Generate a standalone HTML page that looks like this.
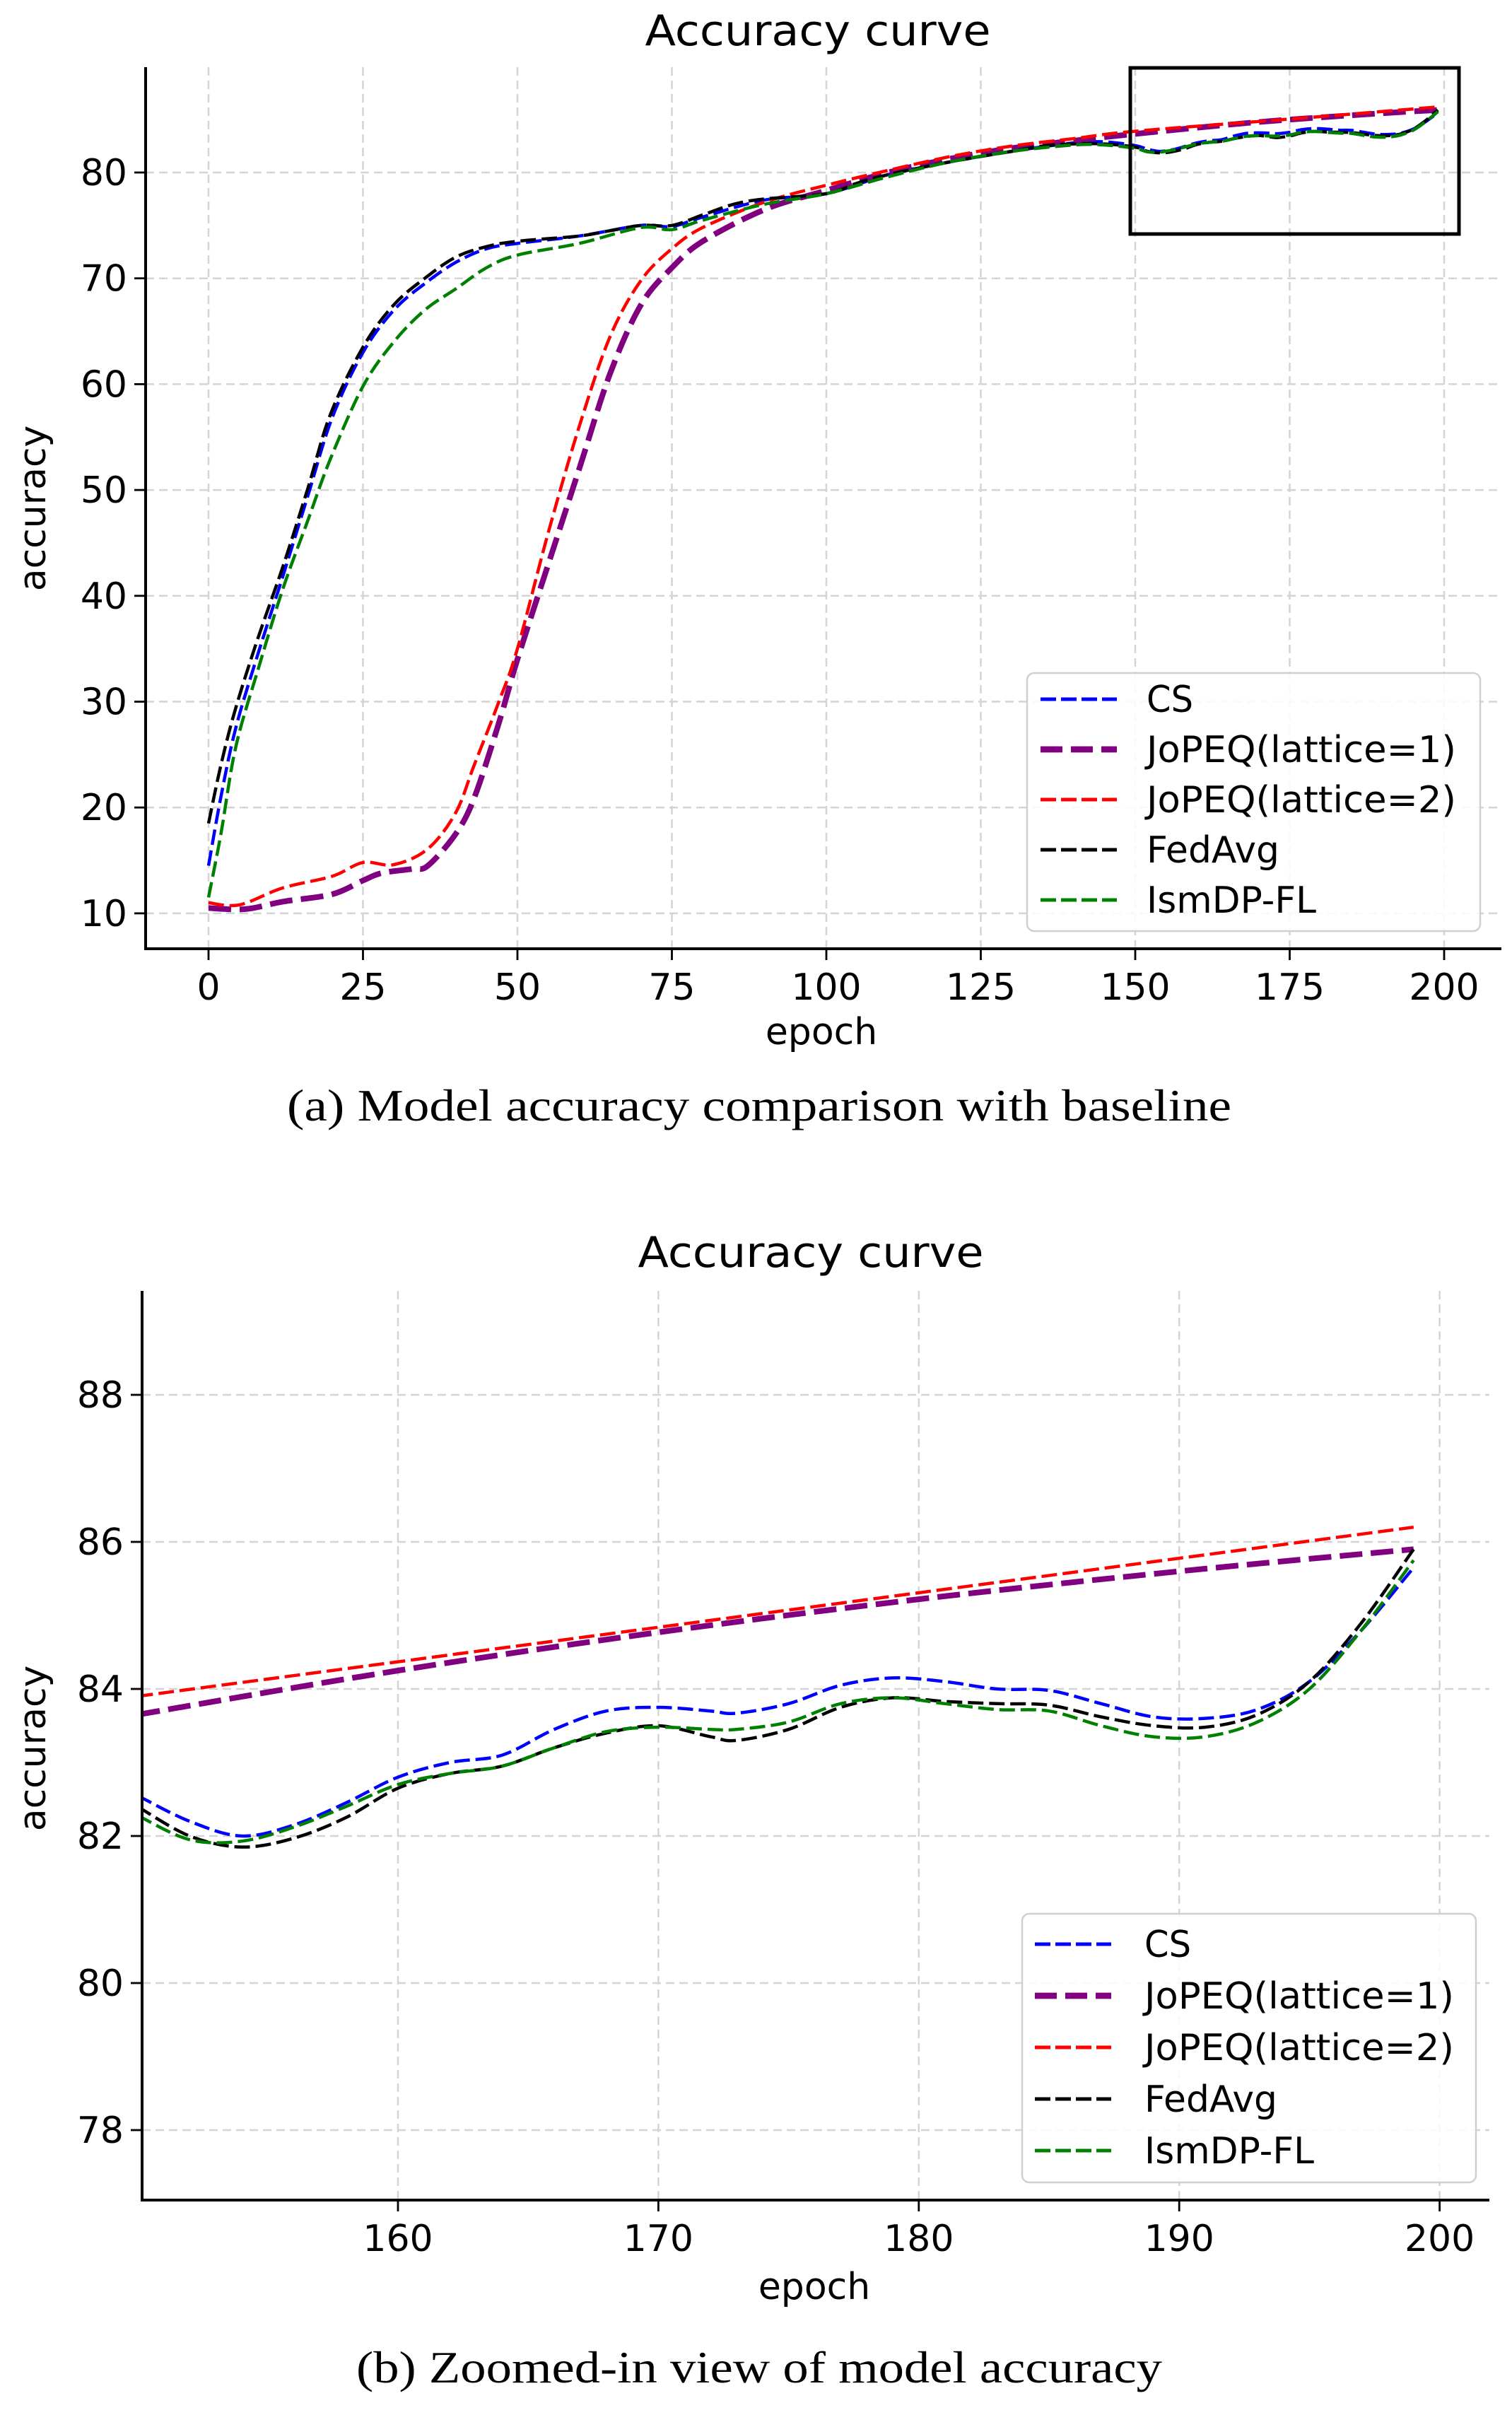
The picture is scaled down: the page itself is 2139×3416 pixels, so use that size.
<!DOCTYPE html>
<html><head><meta charset="utf-8"><style>
html,body{margin:0;padding:0;background:#fff;}
svg{display:block;}
text{font-family:"DejaVu Sans","Liberation Sans",sans-serif;fill:#000;}
.cap{font-family:"Liberation Serif",serif;}
</style></head><body>
<svg id="s" width="2139" height="3416" viewBox="0 0 2139 3416" xmlns="http://www.w3.org/2000/svg">
<rect width="2139" height="3416" fill="#fff"/>
<g id="ga"></g>
<g id="gb"></g>
<text x="1157" y="64" font-size="60" text-anchor="middle" textLength="489" lengthAdjust="spacingAndGlyphs">Accuracy curve</text>
<text x="1147" y="1792" font-size="60" text-anchor="middle" textLength="489" lengthAdjust="spacingAndGlyphs">Accuracy curve</text>
<text x="1162" y="1477" font-size="52" text-anchor="middle">epoch</text>
<text x="1152" y="3252" font-size="52" text-anchor="middle">epoch</text>
<text transform="translate(64,719) rotate(-90)" font-size="52" text-anchor="middle">accuracy</text>
<text transform="translate(64,2473) rotate(-90)" font-size="52" text-anchor="middle">accuracy</text>
<text class="cap" x="406" y="1585" font-size="64" textLength="1336" lengthAdjust="spacingAndGlyphs">(a)  Model accuracy comparison with baseline</text>
<text class="cap" x="504" y="3370" font-size="64" textLength="1140" lengthAdjust="spacingAndGlyphs">(b)  Zoomed-in view of model accuracy</text>
</svg>
<script>
var NS="http://www.w3.org/2000/svg";
function el(p,t,a,txt){var e=document.createElementNS(NS,t);for(var k in a)e.setAttribute(k,a[k]);if(txt!==undefined)e.textContent=txt;p.appendChild(e);return e;}
function path(pts,X,Y){var P=pts.map(function(p){return [X(p[0]),Y(p[1])];});var d="M"+P[0][0].toFixed(1)+","+P[0][1].toFixed(1);
for(var i=0;i<P.length-1;i++){var p0=P[i-1]||P[i],p1=P[i],p2=P[i+1],p3=P[i+2]||P[i+1];
var c1=[p1[0]+(p2[0]-p0[0])/6,p1[1]+(p2[1]-p0[1])/6],c2=[p2[0]-(p3[0]-p1[0])/6,p2[1]-(p3[1]-p1[1])/6];
d+=" C"+c1[0].toFixed(1)+","+c1[1].toFixed(1)+" "+c2[0].toFixed(1)+","+c2[1].toFixed(1)+" "+p2[0].toFixed(1)+","+p2[1].toFixed(1);}return d;}
var zCS=[[150,82.55],[152,82.2],[154,82.0],[156,82.15],[158,82.45],[160,82.8],[162,83.0],[164,83.1],[166,83.45],[168,83.7],[170,83.75],[172,83.7],[173,83.67],[175,83.8],[177,84.05],[179,84.15],[181,84.1],[183,84.0],[185,83.98],[187,83.8],[189,83.62],[191,83.6],[193,83.72],[195,84.1],[197,84.8],[199,85.65]];
var zFA=[[150,82.4],[152,82.0],[154,81.85],[156,81.97],[158,82.25],[160,82.65],[162,82.85],[164,82.95],[166,83.2],[168,83.4],[170,83.5],[172,83.35],[173,83.3],[175,83.45],[177,83.75],[179,83.88],[181,83.83],[183,83.8],[185,83.78],[187,83.62],[189,83.5],[191,83.48],[193,83.65],[195,84.1],[197,84.9],[199,85.9]];
var zGR=[[150,82.28],[152,81.95],[154,81.93],[156,82.12],[158,82.4],[160,82.7],[162,82.85],[164,82.95],[166,83.2],[168,83.42],[170,83.48],[172,83.45],[173,83.45],[175,83.55],[177,83.8],[179,83.88],[181,83.8],[183,83.72],[185,83.7],[187,83.5],[189,83.35],[191,83.35],[193,83.55],[195,84.0],[197,84.8],[199,85.75]];
var zRD=[[150,83.9],[199,86.2]];
var zPU=[[150,83.65],[160,84.25],[170,84.77],[180,85.22],[190,85.6],[199,85.9]];
var aFA=[[0,18.5],[2,24],[4.4,29.4],[8,36],[12,42.7],[16,50],[19.7,57.1],[25,63.5],[30,67.5],[35,70],[40,72],[45,73],[50,73.5],[60,74],[65,74.5],[70,75],[75,75],[80,76],[85,77],[90,77.5],[100,78],[105,79],[110,79.8],[120,81],[130,82],[135,82.5],[140,82.7],[145,82.7]].concat(zFA);
var aCS=[[0,14.5],[2,21],[4.4,27.5],[8,34.5],[12,41.8],[16,49.3],[20,56.8],[25,63],[30,67],[35,69.5],[40,71.5],[45,72.8],[50,73.3],[60,74],[70,75],[75,74.9],[80,75.8],[90,77.4],[100,78],[110,79.8],[120,81],[130,82],[140,82.8],[145,82.9]].concat(zCS);
var aGR=[[0,11.5],[2,17.5],[4.4,25.7],[8,33],[12,40.6],[16,47],[19.7,52.9],[25,59.8],[30,64],[35,67],[40,69],[45,71],[50,72.2],[60,73.3],[70,74.8],[75,74.6],[80,75.5],[90,77],[100,78],[110,79.6],[120,81],[130,82],[140,82.6],[145,82.6]].concat(zGR);
var aRD=[[0,11],[5,10.8],[12,12.4],[20,13.5],[25,14.8],[30,14.6],[35.5,16.1],[40,19.5],[43,24],[47,30],[50,35],[55,46],[60,56],[65,64.5],[70,69.8],[75,72.8],[80,74.8],[90,77.2],[100,78.8],[110,80.2],[120,81.5],[130,82.5],[140,83.2],[150,83.9],[175,85.05],[199,86.2]];
var aPU=[[0,10.5],[6,10.4],[12,11.1],[20,11.8],[25,13.1],[28,13.8],[33,14.2],[35.5,14.5],[40,17.5],[43,20.9],[47,28],[50,34],[55,43],[60,52],[65,61],[70,67.5],[75,71],[80,73.5],[90,76.5],[100,78.3],[110,80],[120,81.3],[130,82.3],[140,83],[150,83.65],[170,84.77],[190,85.6],[199,85.9]];
var styles={cs:["#0000ff",4.5,"22 8"],pu:["#800080",8,"32 12"],rd:["#ff0000",4.5,"22 8"],fa:["#000000",4.5,"22 8"],gr:["#008000",4.5,"22 8"]};
function plot(g,o){
 var X=function(e){return o.x0+(e-o.e0)*o.px;},Y=function(v){return o.y0+(o.v0-v)*o.py;};
 o.xt.forEach(function(t){var x=X(t);el(g,"line",{x1:x,x2:x,y1:o.top,y2:o.bot,stroke:"#d4d4d4","stroke-width":2.5,"stroke-dasharray":"12 7"});
  el(g,"line",{x1:x,x2:x,y1:o.bot,y2:o.bot+16,stroke:"#000","stroke-width":2.8});
  el(g,"text",{x:x,y:o.bot+72,"font-size":52,"text-anchor":"middle"},String(t));});
 o.yt.forEach(function(t){var y=Y(t);el(g,"line",{x1:o.left,x2:o.right,y1:y,y2:y,stroke:"#d4d4d4","stroke-width":2.5,"stroke-dasharray":"12 7"});
  el(g,"line",{x1:o.left-16,x2:o.left,y1:y,y2:y,stroke:"#000","stroke-width":2.8});
  el(g,"text",{x:o.left-26,y:y+18,"font-size":52,"text-anchor":"end"},String(t));});
 var cp=el(g,"clipPath",{id:"c"+o.id});el(cp,"rect",{x:o.left,y:o.top,width:o.right-o.left,height:o.bot-o.top});
 var sg=el(g,"g",{"clip-path":"url(#c"+o.id+")"});
 o.series.forEach(function(s){var st=styles[s[0]];el(sg,"path",{d:path(s[1],X,Y),fill:"none",stroke:st[0],"stroke-width":st[1],"stroke-dasharray":st[2]});});
 el(g,"line",{x1:o.left,x2:o.left,y1:o.top,y2:o.bot+2,stroke:"#000","stroke-width":4});
 el(g,"line",{x1:o.left-2,x2:o.right,y1:o.bot,y2:o.bot,stroke:"#000","stroke-width":4});
 var L=o.leg;el(g,"rect",{x:L.x,y:L.y,width:L.w,height:L.h,rx:10,fill:"#fff","fill-opacity":0.85,stroke:"#d0d0d0","stroke-width":2.5});
 var names=[["cs","CS",66],["pu","JoPEQ(lattice=1)",438],["rd","JoPEQ(lattice=2)",438],["fa","FedAvg",188],["gr","IsmDP-FL",240]];
 names.forEach(function(n,i){var y=L.r0+i*L.dy,st=styles[n[0]];
  el(g,"line",{x1:L.lx,x2:L.lx+108,y1:y,y2:y,stroke:st[0],"stroke-width":st[1]*1.1,"stroke-dasharray":n[0]=="pu"?"31 12":"22 7"});
  el(g,"text",{x:L.tx,y:y+18,"font-size":52,textLength:n[2],lengthAdjust:"spacingAndGlyphs"},n[1]);});
}
plot(document.getElementById("ga"),{id:"a",x0:295,e0:0,px:8.74,y0:244,v0:80,py:14.97,left:206,right:2124,top:95,bot:1342,
 xt:[0,25,50,75,100,125,150,175,200],yt:[10,20,30,40,50,60,70,80],
 series:[["cs",aCS],["pu",aPU],["rd",aRD],["fa",aFA],["gr",aGR]],
 leg:{x:1453,y:952,w:641,h:365,r0:989,dy:71,lx:1472,tx:1622}});
plot(document.getElementById("gb"),{id:"b",x0:563,e0:160,px:36.84,y0:1973,v0:88,py:104,left:201,right:2107,top:1826,bot:3112,
 xt:[160,170,180,190,200],yt:[78,80,82,84,86,88],
 series:[["cs",zCS],["pu",zPU],["rd",zRD],["fa",zFA],["gr",zGR]],
 leg:{x:1446,y:2707,w:642,h:380,r0:2750,dy:73,lx:1464,tx:1619}});
var ga=document.getElementById("ga");
el(ga,"rect",{x:1599,y:96,width:465,height:235,fill:"none",stroke:"#000","stroke-width":5});
</script>
</body></html>
